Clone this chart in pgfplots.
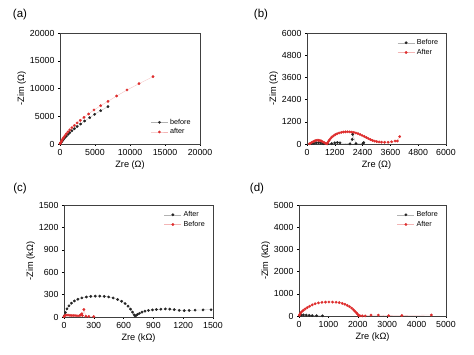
\documentclass[border=0pt]{standalone}
\usepackage{pgfplots}
\pgfplotsset{compat=1.18}
\usepackage{fontspec}
\setmainfont{Liberation Sans}
\definecolor{myred}{RGB}{222,45,45}
\definecolor{myblk}{RGB}{35,35,35}
\pgfplotsset{
  panel/.style={
    scale only axis,
    axis line style={black!75, line width=0.5pt},
    tick style={black, line width=0.4pt},
    tick align=outside,
    major tick length=2pt,
    xtick pos=lower, ytick pos=left,
    scaled ticks=false,
    /pgf/number format/assume math mode=true,
    /pgf/number format/1000 sep={},
    tick label style={font=\fontsize{8.8}{9}\selectfont},
    label style={font=\fontsize{9.2}{10}\selectfont},
    xlabel style={yshift=2pt},
    ylabel style={yshift=-3pt},
    legend style={draw=none, fill=none, font=\fontsize{7.2}{8}\selectfont,
      row sep=-1pt},
    legend cell align=left,
    xmin=0, ymin=0,
  },
  redser/.style={color=myred!35, line width=0.3pt, mark=*, mark size=1.25pt,
    mark options={draw=myred, fill=myred}},
  blkser/.style={color=black!30, line width=0.3pt, mark=*, mark size=1.25pt,
    mark options={draw=myblk, fill=myblk}},
}
\begin{document}
\begin{tikzpicture}
\path[use as bounding box] (0,0) rectangle (474pt,355pt);
% panel labels
\node[font=\fontsize{11.5}{12}\selectfont] at (20pt,340pt) {(a)};
\node[font=\fontsize{11.5}{12}\selectfont] at (261pt,340pt) {(b)};
\node[font=\fontsize{11.5}{12}\selectfont] at (20pt,166pt) {(c)};
\node[font=\fontsize{11.5}{12}\selectfont] at (257pt,166pt) {(d)};

% (a)
\begin{axis}[panel, at={(60pt,211pt)}, anchor=south west,
  width=140pt, height=111pt,
  xmax=20000, ymax=20000,
  xtick={0,5000,10000,15000,20000}, ytick={0,5000,10000,15000,20000},
  xlabel={Zre (Ω)}, ylabel={-Zim (Ω)},
  legend style={at={(0.97,0.04)}, anchor=south east}]
\addplot[blkser] coordinates {
(30,50)(70,130)(130,240)(210,380)(310,550)(430,750)(570,950)(730,1200)
(920,1450)(1150,1750)(1400,2050)(1700,2400)(2050,2750)(2450,3150)
(2950,3600)(3524,4144)(4238,4745)(4952,5345)(5810,6006)(6857,6727)};
\addlegendentry{before}
\addplot[redser] coordinates {
(30,70)(70,180)(130,330)(210,520)(310,750)(430,1000)(570,1250)(730,1550)
(920,1850)(1150,2200)(1400,2550)(1700,2950)(2050,3350)(2450,3800)
(2900,4250)(3430,4805)(4095,5405)(4857,6126)(5810,6907)(6857,7688)
(8095,8649)(9571,9730)(11286,10865)(13286,12126)};
\addlegendentry{after}
\end{axis}

% (b)
\begin{axis}[panel, at={(307pt,211pt)}, anchor=south west,
  width=139pt, height=111pt,
  xmax=6000, ymax=6000,
  xtick={0,1200,2400,3600,4800,6000}, ytick={0,1200,2400,3600,4800,6000},
  xlabel={Zre (Ω)}, ylabel={-Zim (Ω)},
  legend style={at={(0.98,0.98)}, anchor=north east}]
\addplot[blkser] coordinates {
(200,20)(300,40)(400,60)(500,70)(600,50)(700,20)(900,10)(1066,20)
(1200,60)(1308,80)(1424,60)(1856,10)(1950,250)(1972,520)(2115,20)
(2417,30)(2450,70)};
\addlegendentry{Before}
\addplot[redser] coordinates {
(100,10)(150,40)(200,80)(260,120)(320,160)(380,190)(440,205)(500,200)
(560,185)(620,160)(680,120)(740,80)(800,40)(850,15)(880,40)(920,130)
(960,210)(1010,290)(1070,370)(1140,440)(1220,505)(1300,555)(1390,595)
(1480,625)(1570,645)(1660,655)(1750,660)(1840,655)(1930,645)(2020,625)
(2110,595)(2200,560)(2290,515)(2380,465)(2470,410)(2560,350)(2650,290)
(2740,235)(2830,190)(2920,155)(3010,130)(3110,110)(3220,100)(3350,92)
(3500,95)(3650,120)(3800,160)(3900,160)(4000,400)};
\addlegendentry{After}
\end{axis}

% (c)
\begin{axis}[panel, at={(64pt,38pt)}, anchor=south west,
  width=149pt, height=112pt,
  xmax=1500, ymax=1500,
  xtick={0,300,600,900,1200,1500}, ytick={0,300,600,900,1200,1500},
  xlabel={Zre (kΩ)}, ylabel={-Zim (kΩ)},
  legend style={at={(0.98,0.98)}, anchor=north east}]
\addplot[blkser] coordinates {
(5,20)(15,60)(30,110)(50,150)(75,185)(105,215)(140,238)(180,256)(225,268)
(270,276)(315,280)(360,280)(405,277)(450,268)(495,255)(540,235)(580,210)
(615,180)(645,145)(670,105)(690,65)(705,30)(715,15)(725,20)(740,35)
(760,50)(785,65)(815,78)(850,88)(890,95)(930,100)(975,105)(1020,108)
(1065,105)(1110,98)(1160,90)(1210,85)(1260,88)(1320,92)(1400,95)(1480,97)};
\addlegendentry{After}
\addplot[redser] coordinates {
(0,5)(10,20)(20,25)(40,25)(60,22)(80,20)(100,20)(120,18)(140,15)(160,20)
(170,30)(180,45)(185,20)(200,100)(220,10)(250,8)(300,5)};
\addlegendentry{Before}
\end{axis}

% (d)
\begin{axis}[panel, at={(299pt,39pt)}, anchor=south west,
  width=147pt, height=111pt,
  xmax=5000, ymax=5000,
  xtick={0,1000,2000,3000,4000,5000}, ytick={0,1000,2000,3000,4000,5000},
  xlabel={Zre (kΩ)}, ylabel={-Zim (kΩ)},
  legend style={at={(0.98,0.98)}, anchor=north east}]
\addplot[blkser] coordinates {
(20,20)(80,40)(150,50)(250,40)(350,30)(450,20)(600,15)(800,10)};
\addlegendentry{Before}
\addplot[redser] coordinates {
(10,30)(30,80)(60,140)(100,200)(150,260)(210,320)(280,380)(360,440)
(450,500)(550,550)(660,590)(780,615)(900,625)(1020,630)(1140,628)
(1260,620)(1370,600)(1470,570)(1560,530)(1640,480)(1720,420)(1790,355)
(1850,285)(1900,215)(1950,145)(1990,80)(2030,30)(2070,10)(2150,5)
(2250,5)(2450,40)(2700,40)(3050,15)(3500,25)(4500,45)};
\addlegendentry{After}
\end{axis}
\end{tikzpicture}
\end{document}
